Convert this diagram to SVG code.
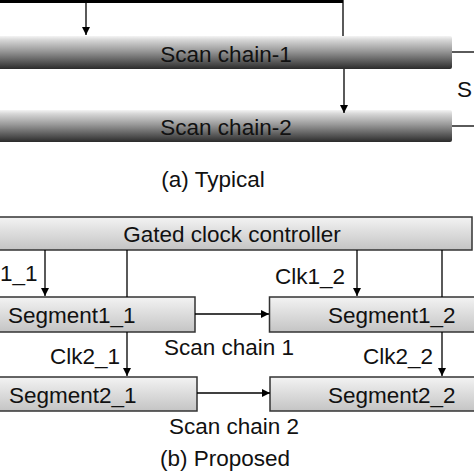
<svg xmlns="http://www.w3.org/2000/svg" width="474" height="474" viewBox="0 0 474 474">
  <defs>
    <linearGradient id="bar" x1="0" y1="0" x2="0" y2="1">
      <stop offset="0" stop-color="#f4f4f4"/>
      <stop offset="0.12" stop-color="#d6d6d6"/>
      <stop offset="0.45" stop-color="#9a9a9a"/>
      <stop offset="0.85" stop-color="#4a4a4a"/>
      <stop offset="1" stop-color="#2a2a2a"/>
    </linearGradient>
    <linearGradient id="seg" x1="0" y1="0" x2="0" y2="1">
      <stop offset="0" stop-color="#f3f3f3"/>
      <stop offset="1" stop-color="#c4c4c4"/>
    </linearGradient>
    <marker id="arr" viewBox="0 0 10 10" refX="10" refY="5" markerWidth="8" markerHeight="8" markerUnits="userSpaceOnUse" orient="auto">
      <path d="M0,0 L10,5 L0,10 z" fill="#000"/>
    </marker>
  </defs>
  <style>
    text { font-family: "Liberation Sans", Arial, sans-serif; fill: #111; }
    .t { font-size: 22.5px; }
    .c { text-anchor: middle; }
    .ln { stroke: #000; stroke-width: 1.3; fill: none; }
    .seg { fill: url(#seg); stroke: #333; stroke-width: 1.5; }
    .bar { fill: url(#bar); }
  </style>
  <rect width="474" height="474" fill="#fff"/>

  <!-- (a) Typical -->
  <g id="top-bus">
    <rect x="-2" y="-2" width="345" height="5" fill="#000"/>
  </g>
  <g id="scan-chain-1">
    <rect class="bar" x="-4" y="36" width="456" height="33" rx="2"/>
    <text class="t c" x="226" y="62">Scan chain-1</text>
  </g>
  <g id="scan-chain-2">
    <rect class="bar" x="-4" y="110" width="456" height="32" rx="2"/>
    <text class="t c" x="226" y="135">Scan chain-2</text>
  </g>
  <g id="label-s">
    <text class="t" x="457" y="97">S</text>
  </g>
  <g id="caption-a">
    <text class="t c" x="213" y="187">(a) Typical</text>
  </g>

  <!-- (b) Proposed -->
  <g id="gated-clock-controller">
    <rect x="-4" y="217" width="476" height="33" fill="url(#seg)" stroke="#333" stroke-width="1.5"/>
    <text class="t c" x="232" y="242">Gated clock controller</text>
  </g>
  <g id="segment1_1">
    <rect class="seg" x="-4" y="297" width="199" height="35"/>
    <text class="t" x="8" y="323">Segment1_1</text>
  </g>
  <g id="segment1_2">
    <rect class="seg" x="269.5" y="297" width="208" height="35"/>
    <text class="t" x="328" y="323">Segment1_2</text>
  </g>
  <g id="segment2_1">
    <rect class="seg" x="-4" y="377" width="201" height="34"/>
    <text class="t" x="9" y="403">Segment2_1</text>
  </g>
  <g id="segment2_2">
    <rect class="seg" x="270" y="377" width="208" height="34"/>
    <text class="t" x="328" y="403">Segment2_2</text>
  </g>

  <g id="connectors">
    <!-- typical -->
    <line class="ln" x1="86" y1="3" x2="86" y2="35" marker-end="url(#arr)"/>
    <line class="ln" x1="343" y1="0" x2="343" y2="36"/>
    <line class="ln" x1="344" y1="69" x2="344" y2="113" marker-end="url(#arr)"/>
    <line class="ln" x1="452" y1="52" x2="474" y2="52"/>
    <line class="ln" x1="452" y1="126" x2="474" y2="126"/>
    <!-- proposed -->
    <line class="ln" x1="45" y1="250" x2="45" y2="296" marker-end="url(#arr)"/>
    <line class="ln" x1="127" y1="250" x2="127" y2="297"/>
    <line class="ln" x1="357" y1="250" x2="357" y2="296" marker-end="url(#arr)"/>
    <line class="ln" x1="442" y1="250" x2="442" y2="297"/>
    <line class="ln" x1="195" y1="314" x2="269" y2="314" marker-end="url(#arr)"/>
    <line class="ln" x1="127" y1="332" x2="127" y2="376" marker-end="url(#arr)"/>
    <line class="ln" x1="442" y1="332" x2="442" y2="376" marker-end="url(#arr)"/>
    <line class="ln" x1="197" y1="393" x2="270" y2="393" marker-end="url(#arr)"/>
  </g>

  <g id="labels">
    <text class="t" x="0" y="281">1_1</text>
    <text class="t" x="275" y="284">Clk1_2</text>
    <text class="t" x="50" y="364">Clk2_1</text>
    <text class="t" x="363" y="364">Clk2_2</text>
    <text class="t c" x="229" y="355">Scan chain 1</text>
    <text class="t c" x="234" y="434">Scan chain 2</text>
    <text class="t c" x="225" y="466">(b) Proposed</text>
  </g>
</svg>
